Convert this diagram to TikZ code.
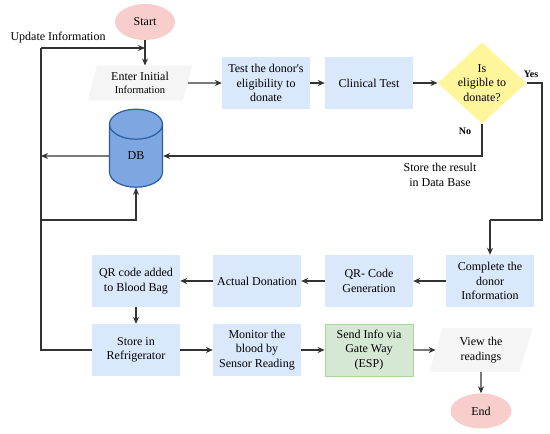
\documentclass[tikz,border=0pt]{standalone}
\usepackage{fontspec}
\setmainfont{Liberation Serif}
\newfontfamily\tnr{Liberation Serif}
\usetikzlibrary{shapes.geometric,arrows.meta}
\definecolor{boxblue}{HTML}{DAE8FC}
\definecolor{pinkc}{HTML}{F8CECC}
\definecolor{yellowc}{HTML}{FFF59A}
\definecolor{dbfill}{HTML}{7EA6E0}
\definecolor{dbline}{HTML}{2B5DA8}
\definecolor{greenf}{HTML}{D5E8D4}
\definecolor{greenl}{HTML}{A8D89A}
\definecolor{grayf}{HTML}{F5F5F5}
\definecolor{linec}{HTML}{333333}
\tikzset{
  txt/.style={font=\tnr\fontsize{12}{14.5}\selectfont, align=center, text=black},
  proc/.style={txt, rectangle, fill=boxblue, minimum width=88pt, minimum height=52pt, inner sep=1pt},
  term/.style={txt, ellipse, fill=pinkc, minimum width=60pt, minimum height=36pt, inner sep=0pt},
  io/.style={txt, trapezium, trapezium left angle=74, trapezium right angle=106, trapezium stretches=true, fill=grayf, inner sep=0pt},
  flow/.style={draw=linec, line width=1.2pt, -{Stealth[length=7pt,width=6pt]}},
  plain/.style={draw=linec, line width=1.2pt},
  lbl/.style={font=\tnr\bfseries\fontsize{10}{12}\selectfont, text=black},
}
\begin{document}
\begin{tikzpicture}[x=1pt,y=-1pt]
\useasboundingbox (0,0) rectangle (550,434);
% nodes
\node[term] (start) at (145,22) {Start};
\node[io, minimum width=105pt, minimum height=35pt] (enter) at (140,83) {Enter Initial\\[-1pt]{\fontsize{10.5}{12}\selectfont Information}};
\node[proc] (test) at (266,83) {Test the donor's\\eligibility to\\donate};
\node[proc] (clin) at (369,83) {Clinical Test};
\node[txt, diamond, fill=yellowc, minimum width=86pt, minimum height=79pt, aspect=1.09, inner sep=0pt] (dia) at (482,83) {Is\\eligible to\\donate?};
\node[txt, cylinder, shape border rotate=90, aspect=1.8, fill=dbfill, draw=dbline, line width=1.2pt, minimum width=53pt, minimum height=78pt, inner sep=0pt] (db) at (136,156) {DB};
\node[proc] (comp) at (490,281) {Complete the\\donor\\Information};
\node[proc] (qrgen) at (369,281) {QR- Code\\Generation};
\node[proc] (act) at (257,281) {Actual Donation};
\node[proc] (qradd) at (136,281) {QR code added\\to Blood Bag};
\node[proc] (store) at (136,350) {Store in\\Refrigerator};
\node[proc] (mon) at (257,350) {Monitor the\\blood by\\Sensor Reading};
\node[proc, fill=greenf, draw=greenl, line width=0.8pt] (send) at (369,350) {Send Info via\\Gate Way\\(ESP)};
\node[io, minimum width=104pt, minimum height=44pt] (view) at (481,350) {View the\\readings};
\node[term, minimum width=61pt, minimum height=35pt] (end) at (481,411) {End};
% labels
\node[txt, anchor=west] (upd) at (7,38) {Update Information};
\node[lbl] (yes) at (531,74) {Yes};
\node[lbl] (no) at (465,131) {No};
\node[txt] (storeres) at (440,175) {Store the result\\in Data Base};
% coordinates
\coordinate (lt) at (41,48);
\coordinate (ltop) at (145,48);
\coordinate (etop) at (145,65.5);
\coordinate (lmid) at (41,156);
\coordinate (lbr) at (41,220);
\coordinate (lbot) at (41,350);
\coordinate (ya) at (542,83);
\coordinate (yb) at (542,220);
\coordinate (yc) at (490,220);
% connectors
\draw[flow] (start) -- (etop);
\draw[plain] (store.west) -- (lbot) -- (lt);
\draw[flow] (lt) -- (ltop);
\draw[flow] (enter) -- (test);
\draw[flow] (test) -- (clin);
\draw[flow] (clin) -- (dia);
\draw[plain] (dia.east) -- (ya) -- (yb) -- (yc);
\draw[flow] (yc) -- (comp.north);
\draw[flow] (dia.south) |- (db.east);
\draw[flow] (db.west) -- (lmid);
\draw[flow] (lbr) -| (db.south);
\draw[flow] (comp) -- (qrgen);
\draw[flow] (qrgen) -- (act);
\draw[flow] (act) -- (qradd);
\draw[flow] (qradd) -- (store);
\draw[flow] (store) -- (mon);
\draw[flow] (mon) -- (send);
\draw[flow] (send) -- (view);
\draw[flow] (view) -- (end);
\end{tikzpicture}
\end{document}
